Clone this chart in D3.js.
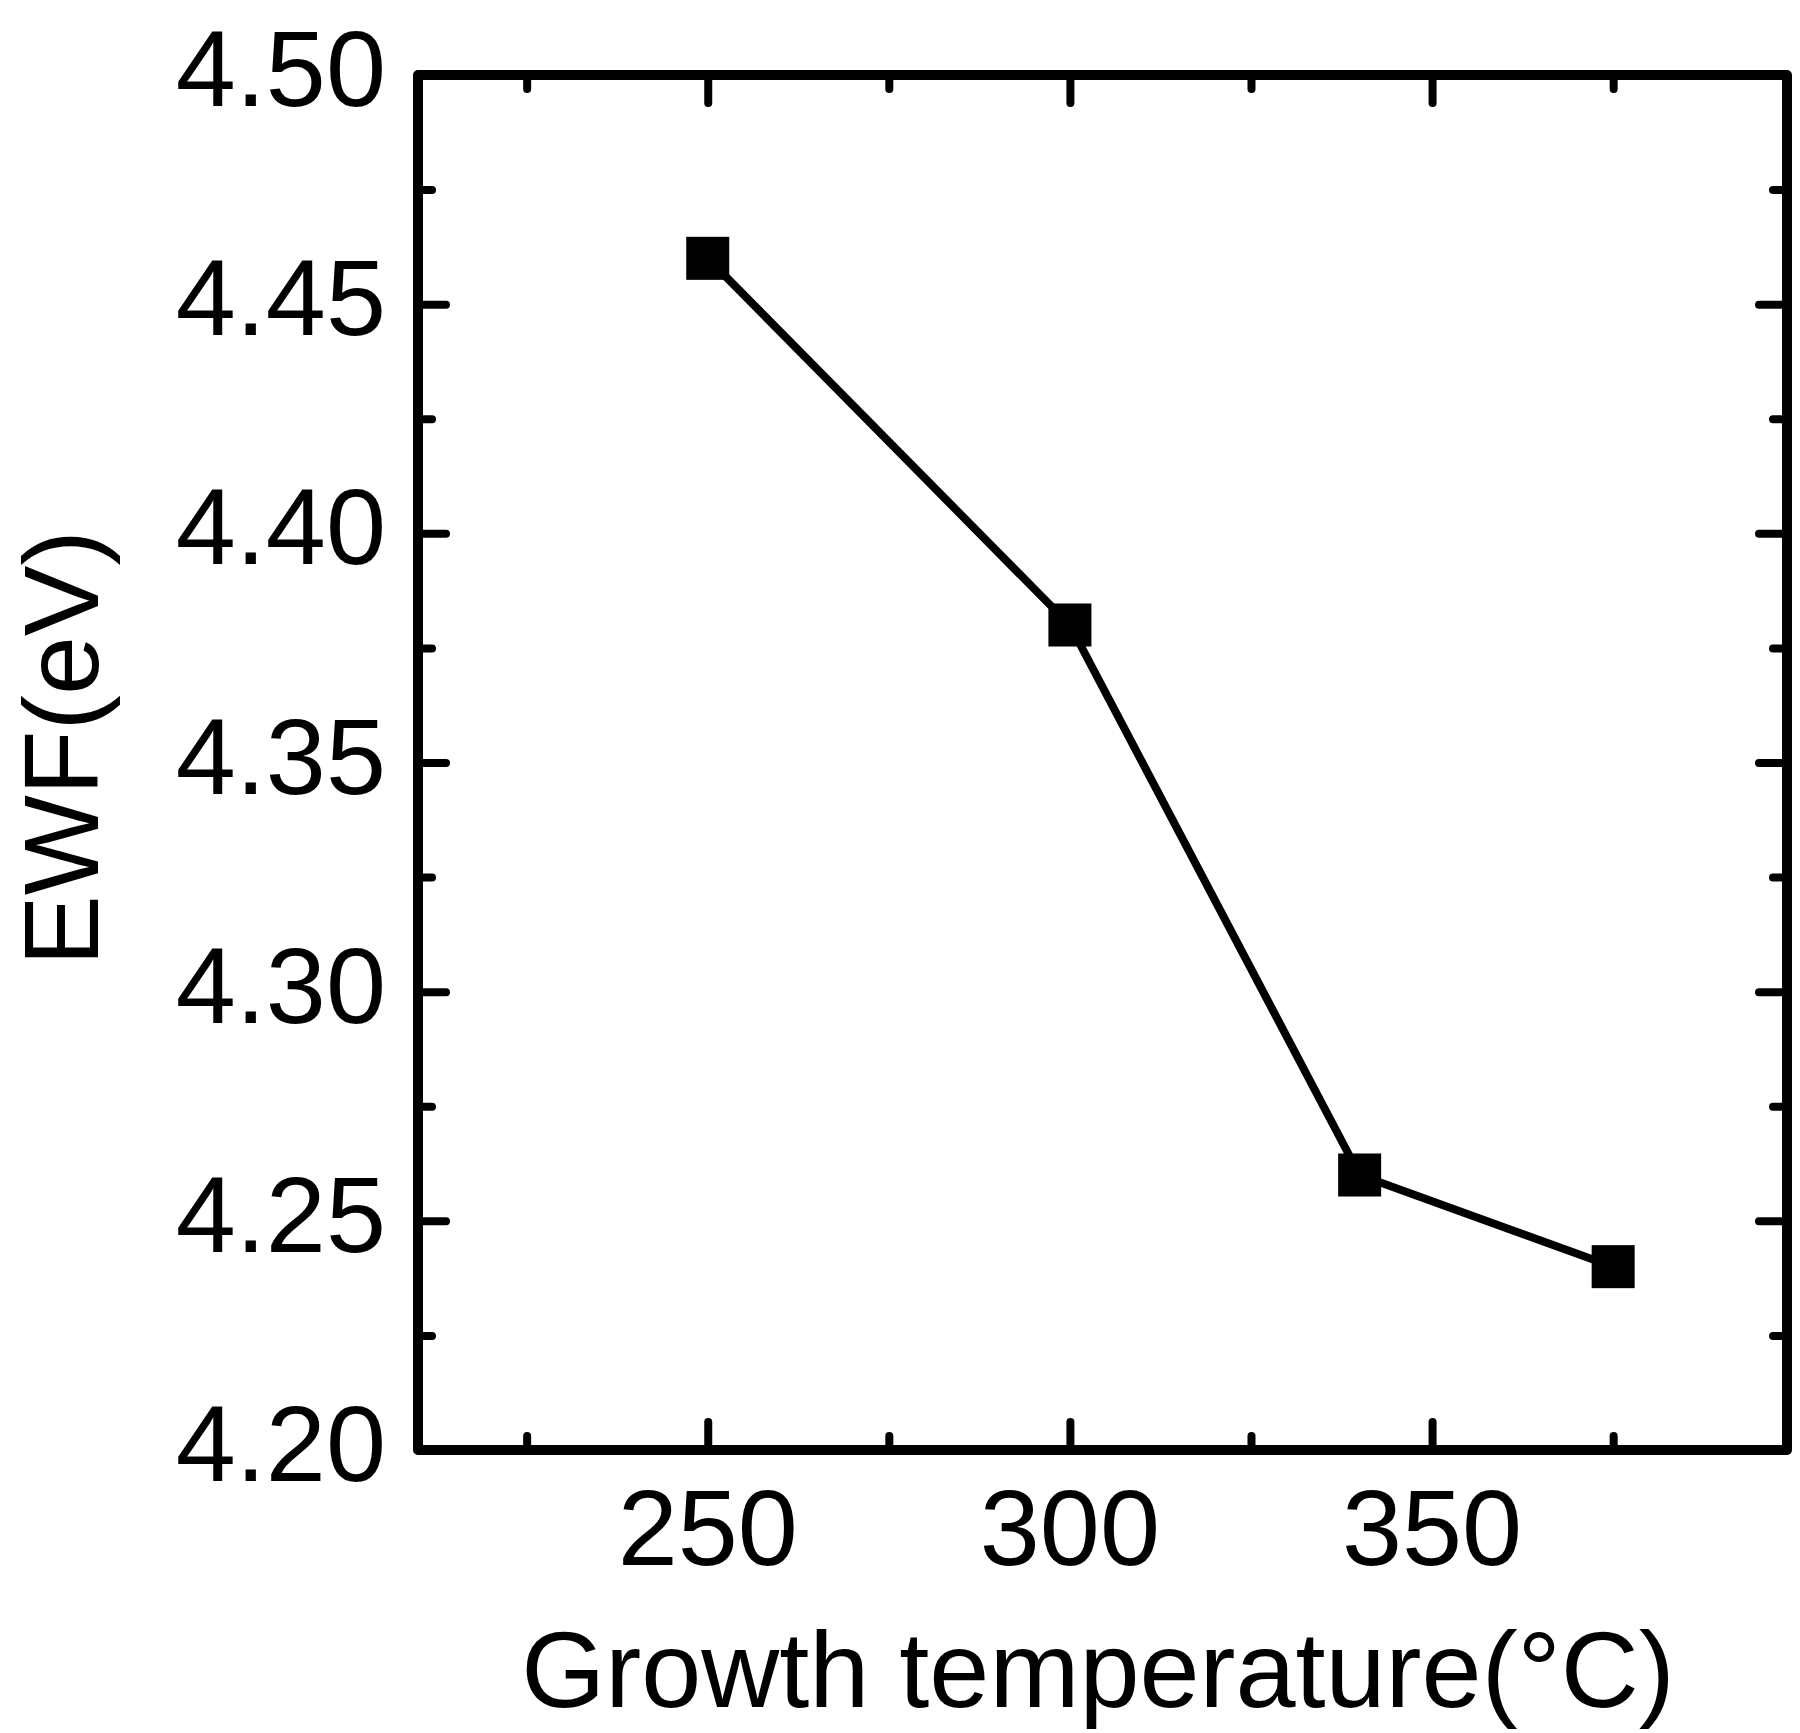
<!DOCTYPE html>
<html>
<head>
<meta charset="utf-8">
<script src="https://cdn.jsdelivr.net/npm/d3@7"></script>
<style>
  html, body { margin: 0; padding: 0; background: #fff; }
  svg { display: block; }
  text { font-family: "Liberation Sans", Arial, Helvetica, sans-serif; fill: #000; }
</style>
</head>
<body>
<svg id="chart" width="1800" height="1733"></svg>
<script>
// Data
const temperatures = [250, 300, 340, 375];
const ewf = [4.46, 4.38, 4.26, 4.24];
const xMajorTicks = [250, 300, 350];
const xMinorTicks = [225, 275, 325, 375];
const yMajorTicks = [4.20, 4.25, 4.30, 4.35, 4.40, 4.45, 4.50];
const yMinorTicks = [4.225, 4.275, 4.325, 4.375, 4.425, 4.475];
const xTitle = "Growth temperature(\u00B0C)";
const yTitle = "EWF(eV)";

const svg = d3.select("#chart");
const L = 418, R = 1787, T = 75, B = 1450;

const x = d3.scaleLinear().domain([210, 399]).range([L, R]);
const y = d3.scaleLinear().domain([4.20, 4.50]).range([B, T]);

const majorLen = 28, minorLen = 14, tickW = 8;

function styleTicks(g) {
  g.select(".domain").remove();
  g.selectAll(".tick line").attr("stroke", "#000").attr("stroke-width", tickW).attr("stroke-linecap", "round");
  g.selectAll(".tick text").remove();
}

// bottom
svg.append("g").attr("transform", `translate(0,${B})`)
  .call(d3.axisBottom(x).tickValues(xMajorTicks).tickSize(-majorLen)).call(styleTicks);
svg.append("g").attr("transform", `translate(0,${B})`)
  .call(d3.axisBottom(x).tickValues(xMinorTicks).tickSize(-minorLen)).call(styleTicks);
// top
svg.append("g").attr("transform", `translate(0,${T})`)
  .call(d3.axisTop(x).tickValues(xMajorTicks).tickSize(-majorLen)).call(styleTicks);
svg.append("g").attr("transform", `translate(0,${T})`)
  .call(d3.axisTop(x).tickValues(xMinorTicks).tickSize(-minorLen)).call(styleTicks);
// left
svg.append("g").attr("transform", `translate(${L},0)`)
  .call(d3.axisLeft(y).tickValues(yMajorTicks).tickSize(-majorLen)).call(styleTicks);
svg.append("g").attr("transform", `translate(${L},0)`)
  .call(d3.axisLeft(y).tickValues(yMinorTicks).tickSize(-minorLen)).call(styleTicks);
// right
svg.append("g").attr("transform", `translate(${R},0)`)
  .call(d3.axisRight(y).tickValues(yMajorTicks).tickSize(-majorLen)).call(styleTicks);
svg.append("g").attr("transform", `translate(${R},0)`)
  .call(d3.axisRight(y).tickValues(yMinorTicks).tickSize(-minorLen)).call(styleTicks);

// frame
svg.append("rect")
  .attr("x", L).attr("y", T).attr("width", R - L).attr("height", B - T)
  .attr("fill", "none").attr("stroke", "#000").attr("stroke-width", 10)
  .attr("stroke-linejoin", "round");

// tick labels
const fs = 108;
svg.append("g").selectAll("text").data(xMajorTicks).join("text")
  .attr("x", d => x(d)).attr("y", 1565)
  .attr("text-anchor", "middle").attr("font-size", fs)
  .text(d => d3.format("d")(d));

svg.append("g").selectAll("text").data(yMajorTicks).join("text")
  .attr("x", 386).attr("y", d => y(d) + 31)
  .attr("text-anchor", "end").attr("font-size", fs)
  .text(d => d3.format(".2f")(d));

// axis titles
svg.append("text")
  .attr("x", 1098).attr("y", 1707)
  .attr("text-anchor", "middle").attr("font-size", 108)
  .text(xTitle);

svg.append("text")
  .attr("transform", `translate(98,748) rotate(-90)`)
  .attr("text-anchor", "middle").attr("font-size", 106)
  .text(yTitle);

// line
const pts = temperatures.map((t, i) => [t, ewf[i]]);
svg.append("path")
  .datum(pts)
  .attr("fill", "none").attr("stroke", "#000").attr("stroke-width", 8)
  .attr("stroke-linejoin", "round")
  .attr("d", d3.line().x(d => x(d[0])).y(d => y(d[1])));

// markers
const ms = 43;
svg.append("g").selectAll("rect").data(pts).join("rect")
  .attr("x", d => x(d[0]) - ms / 2).attr("y", d => y(d[1]) - ms / 2)
  .attr("width", ms).attr("height", ms).attr("fill", "#000");
</script>
</body>
</html>
